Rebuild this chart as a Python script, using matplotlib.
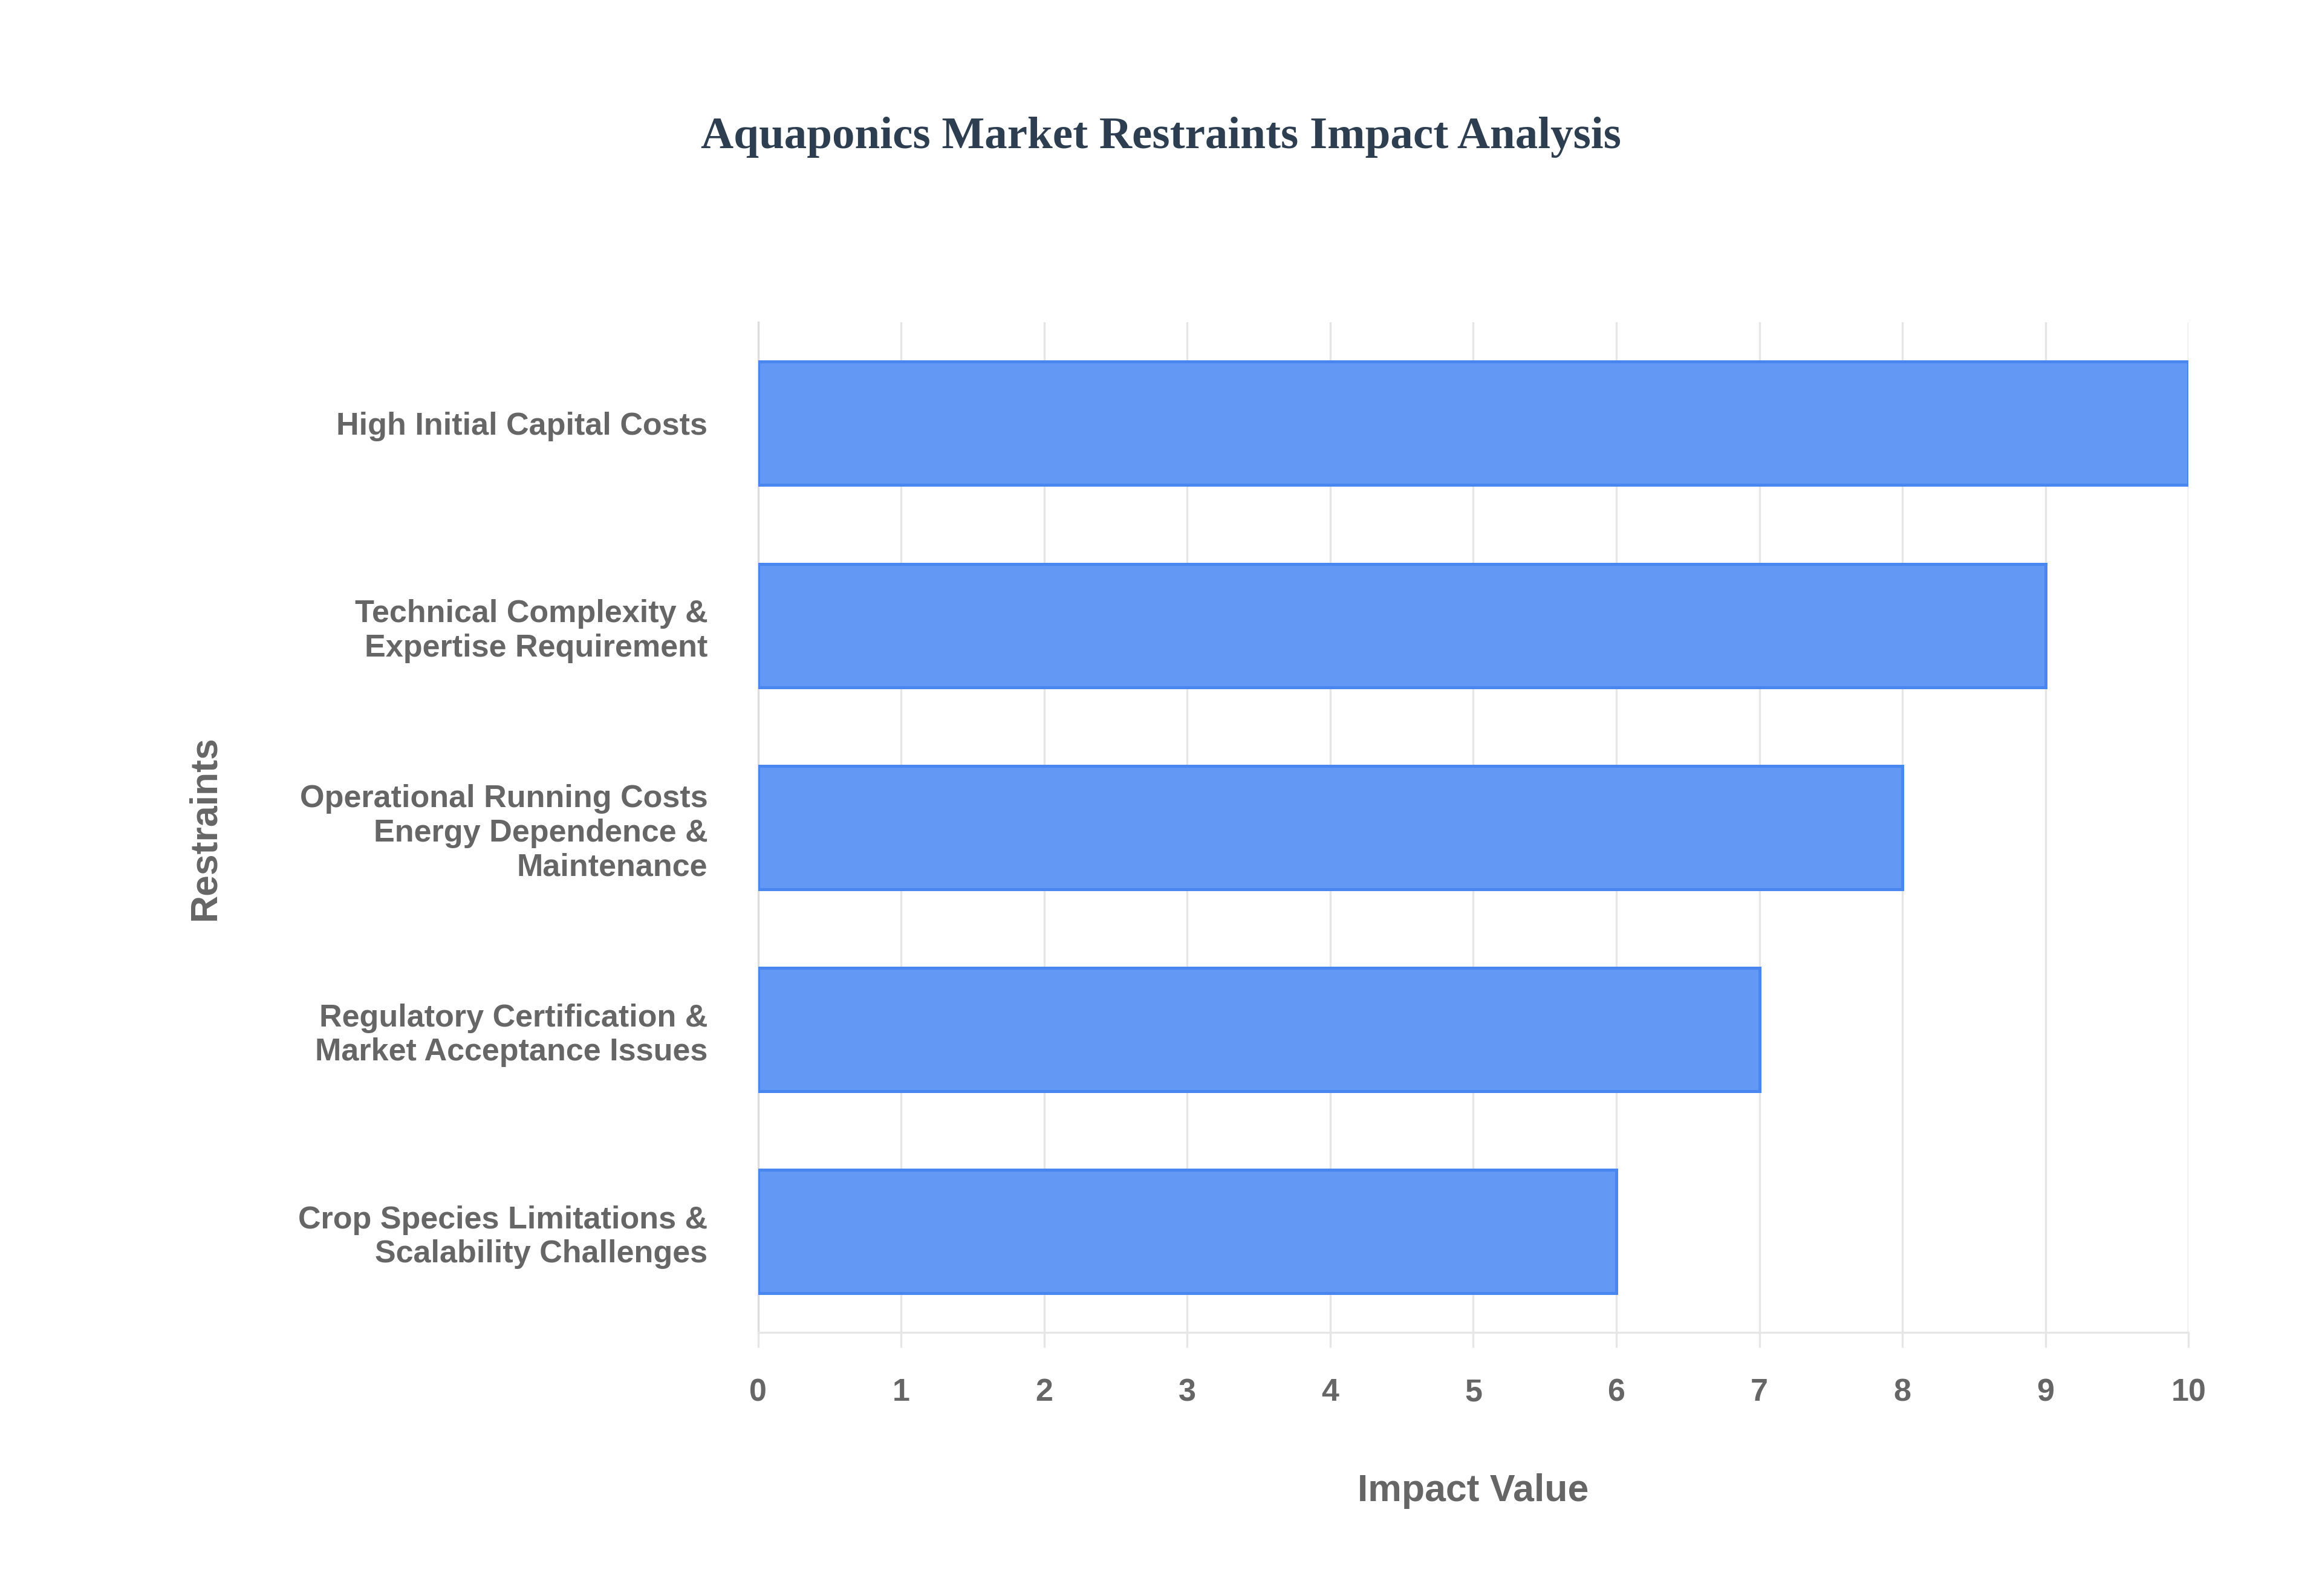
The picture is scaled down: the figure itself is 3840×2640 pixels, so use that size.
import matplotlib
matplotlib.use("Agg")
import matplotlib.pyplot as plt

categories = ["High Initial Capital Costs",
              "Technical Complexity &\nExpertise Requirement",
              "Operational Running Costs\nEnergy Dependence &\nMaintenance",
              "Regulatory Certification &\nMarket Acceptance Issues",
              "Crop Species Limitations &\nScalability Challenges"]
values = [10, 9, 8, 7, 6]
xticks = list(range(0, 11))

fig = plt.figure(figsize=(12.8, 8.8), dpi=300)
ax = fig.add_axes([0.3265, 0.165, 0.616, 0.633])
ypos = list(range(len(categories)))
ax.barh(ypos, values, height=0.61, color="#6399f5", edgecolor="#4a86f0", linewidth=1.2, zorder=3)
ax.set_ylim(len(categories) - 0.5, -0.5)
ax.set_xlim(0, 10)
ax.set_yticks(ypos)
ax.set_yticklabels(categories, fontsize=12.5, fontweight="bold", color="#666666", family="Liberation Sans")
ax.set_xticks(xticks)
ax.set_xticklabels([str(t) for t in xticks], fontsize=12.5, fontweight="bold", color="#666666", family="Liberation Sans")
ax.grid(axis="x", color="#e6e6e6", linewidth=0.8, zorder=0)
for s in ["top", "right"]:
    ax.spines[s].set_visible(False)
ax.spines["left"].set_color("#dddddd")
ax.spines["bottom"].set_color("#e6e6e6")
ax.tick_params(axis="y", length=0, pad=20)
ax.tick_params(axis="x", length=6, color="#e6e6e6", pad=12)
ax.set_xlabel("Impact Value", fontsize=15, fontweight="bold", color="#666666", family="Liberation Sans", labelpad=26)
ax.set_ylabel("Restraints", fontsize=15, fontweight="bold", color="#666666", family="Liberation Sans", labelpad=30)
fig.text(0.5, 0.914, "Aquaponics Market Restraints Impact Analysis", ha="center", va="center",
         fontsize=18, fontweight="bold", color="#2c3e50", family="Liberation Serif")
fig.savefig("out.png", dpi=300, facecolor="white")
